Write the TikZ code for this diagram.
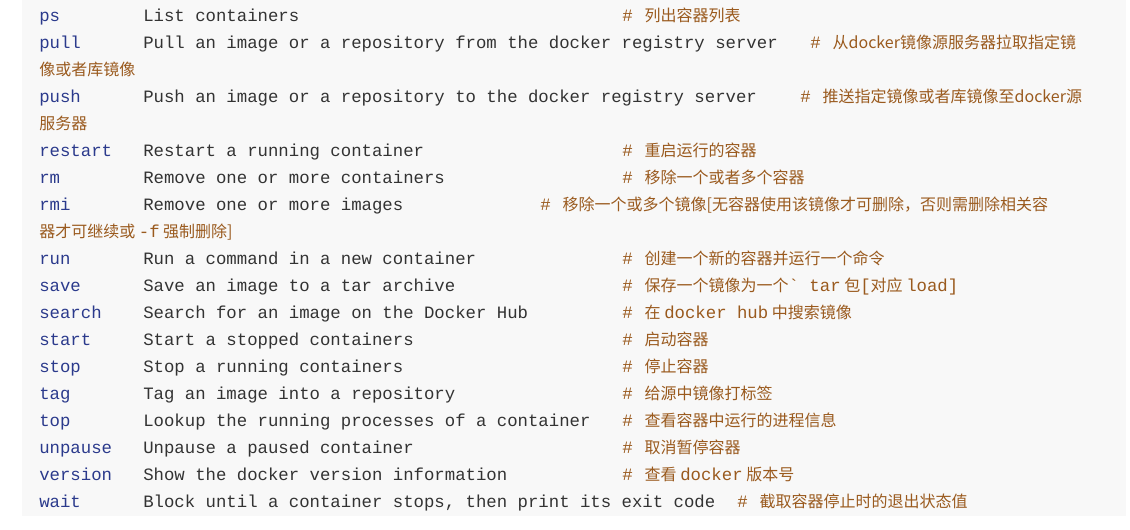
\documentclass[tikz,border=0pt]{standalone}
\usepackage{fontspec}
\setmonofont{Liberation Mono}
\newfontfamily\cjk{Noto Sans CJK SC}
\definecolor{cmdc}{HTML}{2B3A8C}
\definecolor{txtc}{HTML}{333333}
\definecolor{cmtc}{HTML}{9A5A1E}
\definecolor{panel}{HTML}{F8F8F8}
\newcommand\tm[1]{{\ttfamily\fontsize{13}{15}\selectfont #1}}
\newcommand\hsh{{\ttfamily\fontsize{13}{15}\selectfont\char35}\hspace{9pt}}
\begin{document}
\begin{tikzpicture}[x=0.75pt,y=-0.75pt,
  cmd/.style={anchor=base west,inner sep=0,text=cmdc,font=\ttfamily\fontsize{13}{15}\selectfont},
  desc/.style={anchor=base west,inner sep=0,text=txtc,font=\ttfamily\fontsize{13}{15}\selectfont},
  cmt/.style={anchor=base west,inner sep=0,text=cmtc,font=\cjk\fontsize{12}{14}\selectfont}]
\useasboundingbox (0,0) rectangle (1130,529);
\fill[white] (0,0) rectangle (1130,529);
\fill[panel] (22,0) rectangle (1126,516);
\node[cmd] (c1) at (39,21) {ps};
\node[desc] (d1) at (143,21) {List containers};
\node[cmt] (m1) at (622,21) {\hsh 列出容器列表};
\node[cmd] (c2) at (39,48) {pull};
\node[desc] (d2) at (143,48) {Pull an image or a repository from the docker registry server};
\node[cmt] (m2) at (810,48) {\hsh 从docker镜像源服务器拉取指定镜};
\node[cmt] (m2b) at (39,75) {像或者库镜像};
\node[cmd] (c3) at (39,102) {push};
\node[desc] (d3) at (143,102) {Push an image or a repository to the docker registry server};
\node[cmt] (m3) at (800,102) {\hsh 推送指定镜像或者库镜像至docker源};
\node[cmt] (m3b) at (39,129) {服务器};
\node[cmd] (c4) at (39,156) {restart};
\node[desc] (d4) at (143,156) {Restart a running container};
\node[cmt] (m4) at (622,156) {\hsh 重启运行的容器};
\node[cmd] (c5) at (39,183) {rm};
\node[desc] (d5) at (143,183) {Remove one or more containers};
\node[cmt] (m5) at (622,183) {\hsh 移除一个或者多个容器};
\node[cmd] (c6) at (39,210) {rmi};
\node[desc] (d6) at (143,210) {Remove one or more images};
\node[cmt] (m6) at (540,210) {\hsh 移除一个或多个镜像[无容器使用该镜像才可删除，否则需删除相关容};
\node[cmt] (m6b) at (39,237) {器才可继续或 \tm{-f} 强制删除]};
\node[cmd] (c7) at (39,264) {run};
\node[desc] (d7) at (143,264) {Run a command in a new container};
\node[cmt] (m7) at (622,264) {\hsh 创建一个新的容器并运行一个命令};
\node[cmd] (c8) at (39,291) {save};
\node[desc] (d8) at (143,291) {Save an image to a tar archive};
\node[cmt] (m8) at (622,291) {\hsh 保存一个镜像为一个\tm{` tar} 包\tm{[}对应 \tm{load]}};
\node[cmd] (c9) at (39,318) {search};
\node[desc] (d9) at (143,318) {Search for an image on the Docker Hub};
\node[cmt] (m9) at (622,318) {\hsh 在 \tm{docker hub} 中搜索镜像};
\node[cmd] (c10) at (39,345) {start};
\node[desc] (d10) at (143,345) {Start a stopped containers};
\node[cmt] (m10) at (622,345) {\hsh 启动容器};
\node[cmd] (c11) at (39,372) {stop};
\node[desc] (d11) at (143,372) {Stop a running containers};
\node[cmt] (m11) at (622,372) {\hsh 停止容器};
\node[cmd] (c12) at (39,399) {tag};
\node[desc] (d12) at (143,399) {Tag an image into a repository};
\node[cmt] (m12) at (622,399) {\hsh 给源中镜像打标签};
\node[cmd] (c13) at (39,426) {top};
\node[desc] (d13) at (143,426) {Lookup the running processes of a container};
\node[cmt] (m13) at (622,426) {\hsh 查看容器中运行的进程信息};
\node[cmd] (c14) at (39,453) {unpause};
\node[desc] (d14) at (143,453) {Unpause a paused container};
\node[cmt] (m14) at (622,453) {\hsh 取消暂停容器};
\node[cmd] (c15) at (39,480) {version};
\node[desc] (d15) at (143,480) {Show the docker version information};
\node[cmt] (m15) at (622,480) {\hsh 查看 \tm{docker} 版本号};
\node[cmd] (c16) at (39,507) {wait};
\node[desc] (d16) at (143,507) {Block until a container stops, then print its exit code};
\node[cmt] (m16) at (737,507) {\hsh 截取容器停止时的退出状态值};
\end{tikzpicture}
\end{document}
